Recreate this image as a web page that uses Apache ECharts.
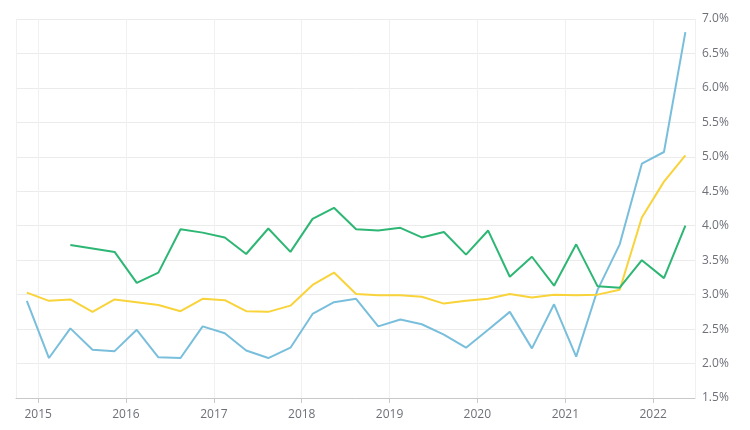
<!DOCTYPE html>
<html>
<head>
<meta charset="utf-8">
<script src="https://cdn.jsdelivr.net/npm/echarts@6/dist/echarts.min.js"></script>
<style>
html,body{margin:0;padding:0;background:#fff;}
#chart{width:750px;height:430px;}
</style>
</head>
<body>
<div id="chart"></div>
<script>
const dates = ['2014-11-15','2015-02-15','2015-05-15','2015-08-15','2015-11-15','2016-02-15','2016-05-15','2016-08-15','2016-11-15','2017-02-15','2017-05-15','2017-08-15','2017-11-15','2018-02-15','2018-05-15','2018-08-15','2018-11-15','2019-02-15','2019-05-15','2019-08-15','2019-11-15','2020-02-15','2020-05-15','2020-08-15','2020-11-15','2021-02-15','2021-05-15','2021-08-15','2021-11-15','2022-02-15','2022-05-15'];
const blueValues = [2.91,2.08,2.51,2.20,2.18,2.49,2.09,2.08,2.54,2.44,2.19,2.08,2.23,2.72,2.89,2.94,2.54,2.64,2.57,2.42,2.23,2.49,2.75,2.22,2.86,2.10,3.07,3.73,4.90,5.07,6.81];
const yellowValues = [3.03,2.91,2.93,2.75,2.93,2.89,2.85,2.76,2.94,2.92,2.76,2.75,2.84,3.14,3.32,3.01,2.99,2.99,2.97,2.87,2.91,2.94,3.01,2.96,3.00,2.99,3.00,3.07,4.12,4.64,5.02];
const greenValues = [null,null,3.72,3.67,3.62,3.17,3.32,3.95,3.90,3.83,3.59,3.96,3.62,4.10,4.26,3.95,3.93,3.97,3.83,3.91,3.58,3.93,3.26,3.55,3.13,3.73,3.12,3.10,3.50,3.24,4.00];
const yTicks = [1.5,2.0,2.5,3.0,3.5,4.0,4.5,5.0,5.5,6.0,6.5,7.0];

function pairs(vals){
  const out = [];
  vals.forEach((v,i)=>{ if(v!==null) out.push([dates[i], v]); });
  return out;
}

const chart = echarts.init(document.getElementById('chart'), null, {renderer:'canvas'});
const YEAR = 365*24*3600*1000;
chart.setOption({
  animation:false,
  backgroundColor:'#fff',
  grid:{left:16, right:55, top:19, bottom:32, containLabel:false},
  xAxis:{
    type:'time',
    min:'2014-10-01',
    max:'2022-06-24',
    minInterval:YEAR,
    maxInterval:YEAR+2*24*3600*1000,
    axisLine:{show:true, lineStyle:{color:'#c8c8c8', width:1}},
    axisTick:{show:true, length:5, lineStyle:{color:'#c8c8c8'}},
    axisLabel:{color:'#6e7079', fontSize:12, fontFamily:'Open Sans', margin:11, formatter:'{yyyy}', showMinLabel:false, showMaxLabel:false},
    splitLine:{show:true, lineStyle:{color:'#f0f0f0', width:1}}
  },
  yAxis:{
    type:'value',
    position:'right',
    min:1.5,
    max:7.0,
    interval:0.5,
    axisLine:{show:false},
    axisTick:{show:false},
    axisLabel:{color:'#6e7079', fontSize:12, fontFamily:'Open Sans', margin:7,
      formatter:function(v){ return v.toFixed(1)+'%'; }},
    splitLine:{show:true, lineStyle:{color:'#ebebeb', width:1}}
  },
  series:[
    {name:'blue', type:'line', data:pairs(blueValues), showSymbol:false, lineStyle:{color:'#79bfdc', width:2}, itemStyle:{color:'#79bfdc'}},
    {name:'yellow', type:'line', data:pairs(yellowValues), showSymbol:false, lineStyle:{color:'#f9d33a', width:2}, itemStyle:{color:'#f9d33a'}},
    {name:'green', type:'line', data:pairs(greenValues), showSymbol:false, lineStyle:{color:'#2db674', width:2}, itemStyle:{color:'#2db674'}}
  ]
});
</script>
</body>
</html>
